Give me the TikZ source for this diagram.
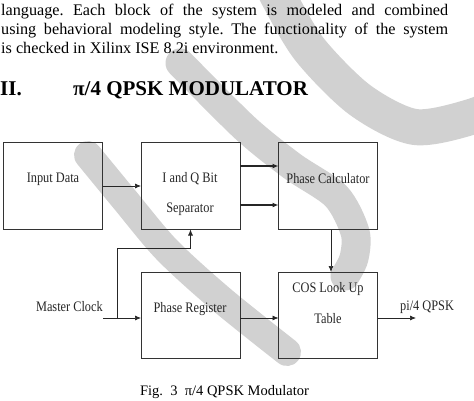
\documentclass[tikz,border=0pt]{standalone}
\usepackage{fontspec}
\setmainfont{Liberation Serif}
\newfontfamily\diagfont[FakeStretch=0.85]{Liberation Serif}
\usetikzlibrary{arrows.meta}

\tikzset{
  blk/.style={draw=black!80, line width=0.9pt, minimum width=99pt, minimum height=87pt, inner sep=0pt, outer sep=0pt},
  lbl/.style={text=black!85, font=\diagfont\fontsize{14.5}{16}\selectfont, inner sep=0pt},
  body/.style={font=\fontsize{16.2}{19}\selectfont, inner sep=0pt, anchor=base west},
  head/.style={font=\fontsize{21}{25}\selectfont\bfseries, inner sep=0pt, anchor=base west},
  arr/.style={draw=black!85, line width=0.7pt, -{Latex[length=6pt,width=5pt]}},
  wm/.style={draw=gray!36, line cap=round},
}

\begin{document}
\frenchspacing
\begin{tikzpicture}[x=1pt,y=-1pt]
    \useasboundingbox (0,0) rectangle (474,400);
    % watermark strokes
    \begin{scope}
        \clip (0,0) rectangle (474,400);
        \draw[wm, line width=28pt] plot[smooth] coordinates {(88,155) (125,200) (167,250) (222,300) (287,352)};
        \draw[wm, line width=29pt] plot[smooth] coordinates {(180,63) (245,128) (292,166) (336,196) (355,232) (354,258) (345,276)};
        \draw[wm, line width=36pt] plot[smooth] coordinates {(268,-25) (280,0) (310,50) (360,100) (415,127) (474,116) (505,100)};
    \end{scope}
    % text of the page
    \node[body] (txta) at (1,15) {\makebox[447pt][s]{language. Each block of the system is modeled and combined}};
    \node[body] (txtb) at (1,34) {\makebox[447pt][s]{using behavioral modeling style. The functionality of the system}};
    \node[body] (txtc) at (1,53) {is checked in Xilinx ISE 8.2i environment.};
    \node[head] (secno) at (0,95) {II.};
    \node[head] (sectitle) at (73,95) {π/4 QPSK MODULATOR};
    % blocks
    \node[blk] (inp) at (53,186) {};
    \node[blk] (sep) at (190.5,186) {};
    \node[blk] (calc) at (328,186) {};
    \node[blk, minimum height=86pt] (reg) at (190.5,315) {};
    \node[blk, minimum height=86pt] (cos) at (328,315) {};
    \node[lbl] (inptxt) at (53,179) {Input Data};
    \node[lbl] (septxta) at (190,179) {I and Q Bit};
    \node[lbl] (septxtb) at (190,209) {Separator};
    \node[lbl] (calctxt) at (328,179) {Phase Calculator};
    \node[lbl] (regtxt) at (190,309) {Phase Register};
    \node[lbl] (costxta) at (328,289) {COS Look Up};
    \node[lbl] (costxtb) at (328,319) {Table};
    \node[lbl, anchor=east] (clktxt) at (103,307) {Master Clock};
    \node[lbl, anchor=west] (outtxt) at (400,307) {pi/4 QPSK};
    \coordinate (clk) at (103,318);
    \coordinate (tap) at (117,318);
    \coordinate (bend) at (117,248);
    \coordinate (out) at (416,318);
    % connections
    \draw[arr] (inp) -- (sep);
    \draw[arr, line width=1.2pt] ([yshift=20pt]sep.east) -- ([yshift=20pt]calc.west);
    \draw[arr, line width=1.2pt] ([yshift=-19pt]sep.east) -- ([yshift=-19pt]calc.west);
    \draw[arr] ([xshift=3pt]calc.south) -- ([xshift=3pt]cos.north);
    \draw[arr] (clk) -- (clk -| reg.west);
    \draw[arr] (tap) -- (bend) -| (sep.south);
    \draw[arr] (reg.east |- clk) -- (cos.west |- clk);
    \draw[arr] (cos.east |- clk) -- (out);
    % caption
    \node[font=\fontsize{14.5}{17}\selectfont, inner sep=0pt, anchor=base] (fig) at (224.5,395) {Fig.\enspace 3\enspace π/4 QPSK Modulator};
\end{tikzpicture}
\end{document}
